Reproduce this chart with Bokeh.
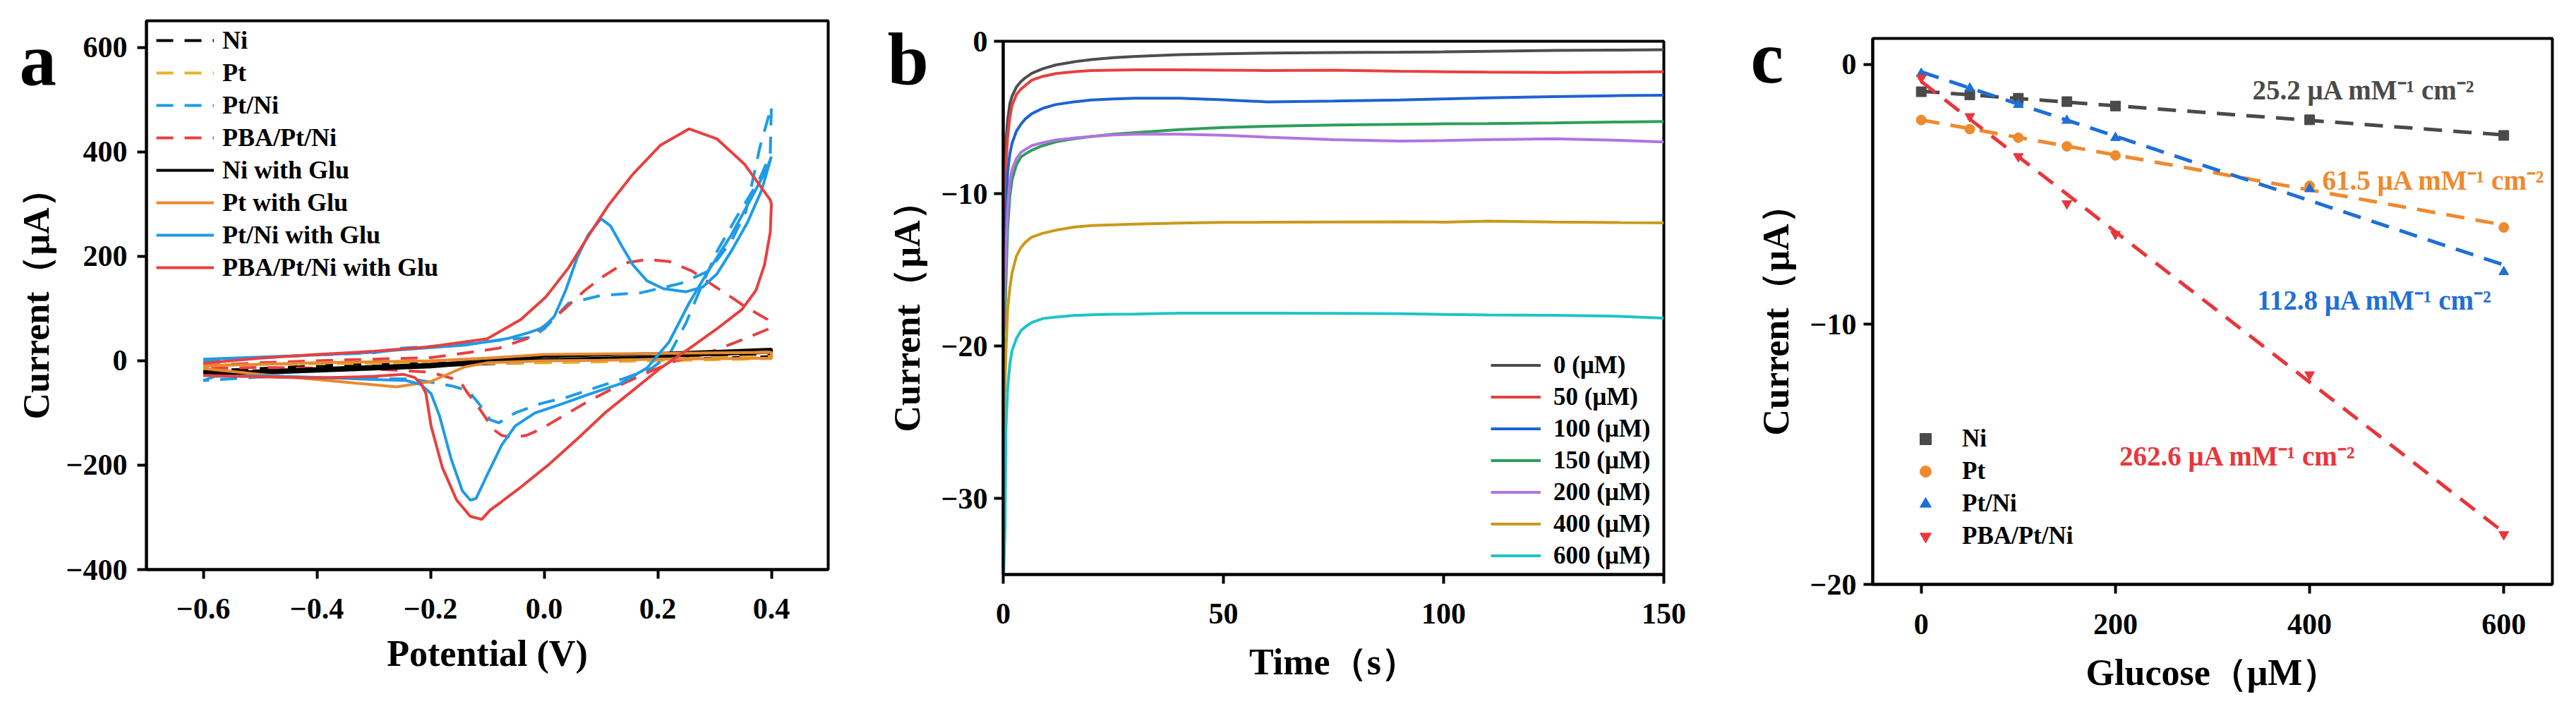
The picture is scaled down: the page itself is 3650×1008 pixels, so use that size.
import numpy as np
from bokeh.plotting import figure
from bokeh.models import (Range1d, FixedTicker, CustomJSTickFormatter, Legend,
                          LegendItem, Label, Title)
from bokeh.embed import file_html
from bokeh.resources import INLINE

FONT = "Liberation Serif"

# ---------------- Panel a : cyclic voltammetry ----------------
v_simple = [-0.6, -0.5, -0.4, -0.3, -0.2, -0.1, 0.0, 0.1, 0.2, 0.3, 0.4,
            0.4, 0.3, 0.2, 0.1, 0.0, -0.1, -0.2, -0.3, -0.4, -0.5, -0.6]
i_ni = [-20, -15, -10, -6, -3, 0, 2, 4, 6, 9, 12,
        8, 5, 2, 0, -3, -6, -10, -13, -16, -19, -22]
i_pt = [-8, -6, -4, -2, 0, 1, 2, 3, 4, 6, 8,
        4, 2, 0, -2, -4, -5, -4, -5, -6, -7, -8]
i_ni_glu = [-25, -20, -15, -11, -7, 0, 8, 11, 14, 18, 22,
            16, 12, 8, 5, 2, -3, -12, -16, -20, -24, -28]

v_pt_glu = [-0.6, -0.5, -0.4, -0.3, -0.2, -0.1, 0.0, 0.1, 0.2, 0.3, 0.4,
            0.4, 0.3, 0.2, 0.1, 0.0, -0.1, -0.14, -0.2, -0.26, -0.3, -0.4, -0.5, -0.6]
i_pt_glu = [-10, -7, -4, -2, 0, 5, 12, 13, 14, 15, 16,
            5, 4, 3, 1, 0, -4, -12, -40, -50, -46, -36, -26, -15]

v_ptni = [-0.6, -0.5, -0.4, -0.3, -0.263, -0.164, -0.02, 0.0, 0.043, 0.1, 0.17, 0.24,
          0.29, 0.33, 0.355, 0.38, 0.4, 0.398, 0.378, 0.343, 0.304, 0.274, 0.25, 0.22,
          0.19, 0.146, 0.092, 0.043, -0.006, -0.051, -0.066, -0.08, -0.095, -0.115,
          -0.134, -0.164, -0.2, -0.233, -0.3, -0.4, -0.5, -0.6]
i_ptni = [0, 6, 11, 15, 23, 30, 45, 61, 110, 125, 130, 148,
          172, 230, 285, 410, 487, 395, 345, 283, 209, 135, 73, 11,
          -14, -32, -51, -69, -82, -100, -110, -119, -113, -82,
          -57, -48, -41, -35, -34, -32, -31, -38]

v_pba = [-0.6, -0.5, -0.4, -0.3, -0.2, -0.164, -0.08, -0.031, 0.008, 0.038, 0.072,
         0.102, 0.141, 0.181, 0.22, 0.26, 0.294, 0.329, 0.353, 0.393, 0.4, 0.393,
         0.353, 0.279, 0.23, 0.181, 0.131, 0.082, 0.033, -0.006, -0.031, -0.056,
         -0.075, -0.09, -0.105, -0.12, -0.134, -0.149, -0.2, -0.3, -0.4, -0.5, -0.6]
i_pba = [-10, -4, 0, 3, 6, 11, 24, 42, 73, 101, 135,
         160, 187, 194, 190, 172, 147, 122, 104, 79, 67, 60,
         42, 11, -1, -23, -48, -75, -106, -131, -143, -147,
         -143, -131, -106, -82, -63, -38, -22, -16, -14, -13, -15]

v_ptni_glu = [-0.6, -0.5, -0.4, -0.3, -0.263, -0.139, -0.066, -0.026, -0.001, 0.018,
              0.038, 0.058, 0.077, 0.1, 0.117, 0.136, 0.156, 0.181, 0.21, 0.25, 0.279,
              0.304, 0.329, 0.358, 0.383, 0.4, 0.393, 0.363, 0.329, 0.289, 0.255, 0.22,
              0.181, 0.132, 0.082, 0.033, -0.016, -0.051, -0.075, -0.1, -0.12, -0.13,
              -0.144, -0.164, -0.184, -0.199, -0.218, -0.243, -0.3, -0.4, -0.5, -0.58, -0.6]
i_ptni_glu = [3, 7, 11, 16, 20, 30, 42, 54, 64, 85,
              135, 197, 240, 272, 258, 221, 184, 153, 138, 132, 141,
              166, 209, 265, 327, 391, 370, 308, 240, 172, 110, 36,
              -14, -45, -63, -82, -100, -125, -162, -218, -264, -267,
              -249, -187, -106, -63, -45, -38, -36, -32, -29, -30, -38]

v_pba_glu = [-0.6, -0.5, -0.4, -0.3, -0.2, -0.1, -0.041, 0.003, 0.043, 0.082, 0.112,
             0.156, 0.205, 0.255, 0.304, 0.353, 0.398, 0.4, 0.398, 0.388, 0.373, 0.348,
             0.304, 0.255, 0.205, 0.156, 0.107, 0.058, 0.008, -0.041, -0.075, -0.095,
             -0.11, -0.13, -0.154, -0.179, -0.199, -0.208, -0.216, -0.228, -0.248,
             -0.3, -0.4, -0.5, -0.6]
i_pba_glu = [-5, 5, 12, 18, 27, 42, 79, 122, 178, 246, 296,
             357, 413, 444, 425, 376, 308, 300, 246, 184, 135, 98,
             61, 23, -14, -57, -100, -150, -199, -242, -270, -286,
             -304, -298, -267, -205, -125, -63, -45, -32, -26,
             -30, -33, -31, -28]

cv_names = ["Ni", "Pt", "Pt/Ni", "PBA/Pt/Ni",
            "Ni with Glu", "Pt with Glu", "Pt/Ni with Glu", "PBA/Pt/Ni with Glu"]
cv_x = [v_simple, v_simple, v_ptni, v_pba, v_simple, v_pt_glu, v_ptni_glu, v_pba_glu]
cv_y = [i_ni, i_pt, i_ptni, i_pba, i_ni_glu, i_pt_glu, i_ptni_glu, i_pba_glu]
cv_colors = ["#000000", "#E8B22A", "#1E9BE8", "#E8403F",
             "#000000", "#E8892F", "#1E9BE8", "#E8403F"]
cv_dashed = [True, True, True, True, False, False, False, False]

# ---------------- Panel b : amperometric i-t ----------------
t_s = [0, 0.4, 0.6, 1.0, 1.5, 2, 3, 4, 5, 6.5, 9, 12, 16, 20, 25, 30, 40, 50,
       60, 75, 90, 100, 110, 125, 140, 150]
it_0 = [-10, -8, -6.7, -5.2, -4.1, -3.6, -3.0, -2.65, -2.4, -2.1, -1.8, -1.55, -1.35,
        -1.2, -1.08, -1.0, -0.88, -0.82, -0.78, -0.74, -0.72, -0.7, -0.66, -0.6, -0.58, -0.56]
it_50 = [-11, -9.5, -8.2, -6.3, -5.0, -4.2, -3.5, -3.15, -2.9, -2.55, -2.3, -2.12, -2.0,
         -1.92, -1.9, -1.88, -1.88, -1.9, -1.92, -1.9, -1.97, -2.0, -2.03, -2.05, -2.02, -2.0]
it_100 = [-15, -13, -11.5, -8.6, -7.4, -6.7, -5.9, -5.45, -5.1, -4.75, -4.4, -4.15, -3.98,
          -3.85, -3.78, -3.74, -3.74, -3.84, -3.98, -3.92, -3.85, -3.78, -3.72, -3.63, -3.57, -3.54]
it_150 = [-20, -18, -16, -12.3, -10.2, -9.1, -8.1, -7.6, -7.4, -7.15, -6.85, -6.6, -6.4,
          -6.25, -6.1, -6.0, -5.8, -5.66, -5.58, -5.5, -5.45, -5.42, -5.4, -5.36, -5.3, -5.27]
it_200 = [-19, -16, -13.8, -11, -9.2, -8.4, -7.7, -7.3, -7.1, -6.85, -6.65, -6.48, -6.35,
          -6.25, -6.15, -6.1, -6.1, -6.17, -6.3, -6.46, -6.55, -6.52, -6.46, -6.4, -6.5, -6.61]
it_400 = [-28, -22.5, -20.5, -17.6, -16.2, -15.2, -14.1, -13.55, -13.2, -12.85, -12.6, -12.4,
          -12.2, -12.1, -12.05, -12.0, -11.93, -11.89, -11.88, -11.86, -11.85, -11.87, -11.8,
          -11.86, -11.9, -11.92]
it_600 = [-36, -32, -25.5, -22.8, -21.2, -20.3, -19.5, -19.0, -18.75, -18.45, -18.2, -18.1,
          -18.0, -17.95, -17.92, -17.9, -17.85, -17.85, -17.85, -17.86, -17.88, -17.93, -17.96,
          -17.99, -18.05, -18.17]
it_names = ["0 (μM)", "50 (μM)", "100 (μM)", "150 (μM)", "200 (μM)", "400 (μM)", "600 (μM)"]
it_series = [it_0, it_50, it_100, it_150, it_200, it_400, it_600]
it_colors = ["#4D4D4D", "#E8403F", "#1F62D3", "#2E9E5B", "#B274DE", "#C99A1A", "#1EC4C8"]

# ---------------- Panel c : calibration ----------------
glucose = [0, 50, 100, 150, 200, 400, 600]
c_ni = [-1.05, -1.17, -1.3, -1.43, -1.6, -2.13, -2.73]
c_pt = [-2.14, -2.49, -2.82, -3.15, -3.5, -4.67, -6.27]
c_ptni = [-0.35, -0.92, -1.55, -2.16, -2.82, -4.79, -7.98]
c_pba = [-0.52, -2.0, -3.54, -5.35, -6.53, -11.93, -18.08]
c_names = ["Ni", "Pt", "Pt/Ni", "PBA/Pt/Ni"]
c_series = [c_ni, c_pt, c_ptni, c_pba]
c_colors = ["#4A4A4A", "#EE8A2E", "#1F6FD6", "#E8363B"]
c_markers = ["square", "circle", "triangle", "inverted_triangle"]
c_sens = ["25.2 μA mM⁻¹ cm⁻²", "61.5 μA mM⁻¹ cm⁻²",
          "112.8 μA mM⁻¹ cm⁻²", "262.6 μA mM⁻¹ cm⁻²"]
c_sens_pos = [(341, -0.99), (413, -4.44), (346, -9.06), (204, -15.07)]


def fmt(dec):
    return CustomJSTickFormatter(code="""
        const a = Math.abs(tick) < 1e-9 ? 0 : Math.abs(tick);
        return (tick < -1e-9 ? '\\u2212' : '') + a.toFixed(%d);
    """ % dec)


def make_fig(width, borders, xr, yr, xticks, yticks, xdec, ydec, xlabel, ylabel,
             x_stand, y_stand):
    left, right, top, bottom = borders
    p = figure(width=width, height=1008, output_backend="svg", toolbar_location=None,
               title=None,
               x_range=Range1d(*xr), y_range=Range1d(*yr),
               min_border_left=left, min_border_right=right,
               min_border_top=top, min_border_bottom=bottom)
    p.background_fill_color = "white"
    p.border_fill_color = "white"
    p.grid.visible = False
    p.outline_line_color = "black"
    p.outline_line_width = 4
    p.outline_line_alpha = 1
    for ax, ticks, dec in ((p.xaxis[0], xticks, xdec), (p.yaxis[0], yticks, ydec)):
        ax.ticker = FixedTicker(ticks=ticks)
        ax.formatter = fmt(dec)
        ax.axis_line_width = 4
        ax.major_tick_line_width = 4
        ax.major_tick_out = 13
        ax.major_tick_in = 0
        ax.minor_tick_line_color = None
        ax.major_label_text_font = FONT
        ax.major_label_text_font_style = "bold"
        ax.major_label_text_font_size = "42px"
        ax.major_label_text_color = "black"
        ax.axis_label_text_font = FONT
        ax.axis_label_text_font_style = "bold"
        ax.axis_label_text_font_size = "52px"
        ax.axis_label_text_color = "black"
    p.xaxis[0].axis_label = xlabel
    p.yaxis[0].axis_label = ylabel
    p.xaxis[0].major_label_standoff = x_stand[0]
    p.xaxis[0].axis_label_standoff = x_stand[1]
    p.yaxis[0].major_label_standoff = y_stand[0]
    p.yaxis[0].axis_label_standoff = y_stand[1]
    return p


def letter(p, text, offset, baseline_y, frame_top):
    # panel letter drawn by a title in the top border, pulled down beside the axis
    bottom_y = baseline_y + 23
    p.add_layout(Title(text=text, align="left", offset=offset, vertical_align="bottom",
                       standoff=2 * (frame_top - bottom_y), text_font=FONT,
                       text_font_style="bold", text_font_size="105px",
                       text_color="black"), "above")


def legend(p, items, loc, size, glyph_w, glyph_h, standoff):
    lg = Legend(items=items, location=loc, padding=0, margin=0, spacing=0,
                background_fill_alpha=0, border_line_alpha=0,
                label_text_font=FONT, label_text_font_style="bold",
                label_text_font_size=size, label_text_color="black",
                glyph_width=glyph_w, glyph_height=glyph_h, label_height=glyph_h,
                label_standoff=standoff)
    p.add_layout(lg)


# ---- a ----
pa = make_fig(1217, (207, 44, 29, 201), (-0.7, 0.5), (-400, 651),
              [-0.6, -0.4, -0.2, 0.0, 0.2, 0.4], [-400, -200, 0, 200, 400, 600],
              1, 0, "Potential (V)", "Current（μA）", (28, 18), (14, 11))
items_a = []
for name, xs, ys, col, dashed in zip(cv_names, cv_x, cv_y, cv_colors, cv_dashed):
    r = pa.line(xs, ys, line_color=col, line_width=4,
                line_dash="24 16" if dashed else "solid")
    items_a.append(LegendItem(label=name, renderers=[r]))
legend(pa, items_a, (14, 405), "36px", 82, 46, 12)
letter(pa, "a", -180, 119, 29)

# ---- b ----
pb = make_fig(1217, (204, 77, 58, 194), (0, 150), (-35, 0),
              [0, 50, 100, 150], [-30, -20, -10, 0],
              0, 0, "Time（s）", "Current（μA）", (28, 23), (9, 17))
items_b = []
for name, ys, col in zip(it_names, it_series, it_colors):
    r = pb.line(t_s, ys, line_color=col, line_width=4)
    items_b.append(LegendItem(label=name, renderers=[r]))
legend(pb, items_b, (691, 4), "35px", 71, 45, 18)
letter(pb, "b", -164, 119, 58)

# ---- c ----
pc = make_fig(1216, (219, 34, 54, 180), (-50, 650), (-20, 1),
              [0, 200, 400, 600], [-20, -10, 0],
              0, 0, "Glucose（μM）", "Current（μA）", (29, 23), (10, 17))
items_c = []
gx = np.array(glucose, dtype=float)
for name, ys, col, mk in zip(c_names, c_series, c_colors, c_markers):
    k, b = np.polyfit(gx, np.array(ys, dtype=float), 1)
    pc.line([gx[0], gx[-1]], [k * gx[0] + b, k * gx[-1] + b],
            line_color=col, line_width=5, line_dash="26 16")
    r = pc.scatter(glucose, ys, marker=mk, size=14, fill_color=col, line_color=col)
    items_c.append(LegendItem(label=name, renderers=[r]))
legend(pc, items_c, (55, 45), "35px", 40, 46, 32)
for txt, (x, y), col in zip(c_sens, c_sens_pos, c_colors):
    pc.add_layout(Label(x=x, y=y, text=txt, text_font=FONT, text_font_style="bold",
                        text_font_size="39px", text_color=col,
                        text_baseline="middle", text_align="left"))
letter(pc, "c", -173, 116, 54)

# three independent roots laid side by side (no cross-plot frame alignment)
TEMPLATE = """
{% block postamble %}
<style>
  html, body { margin: 0 !important; padding: 0 !important; overflow: hidden !important; }
  body { display: flex !important; flex-direction: row !important;
         align-items: flex-start !important; }
  body > * { flex: 0 0 auto !important; }
</style>
{% endblock %}
"""
open("out.html", "w").write(file_html([pa, pb, pc], INLINE, template=TEMPLATE))
